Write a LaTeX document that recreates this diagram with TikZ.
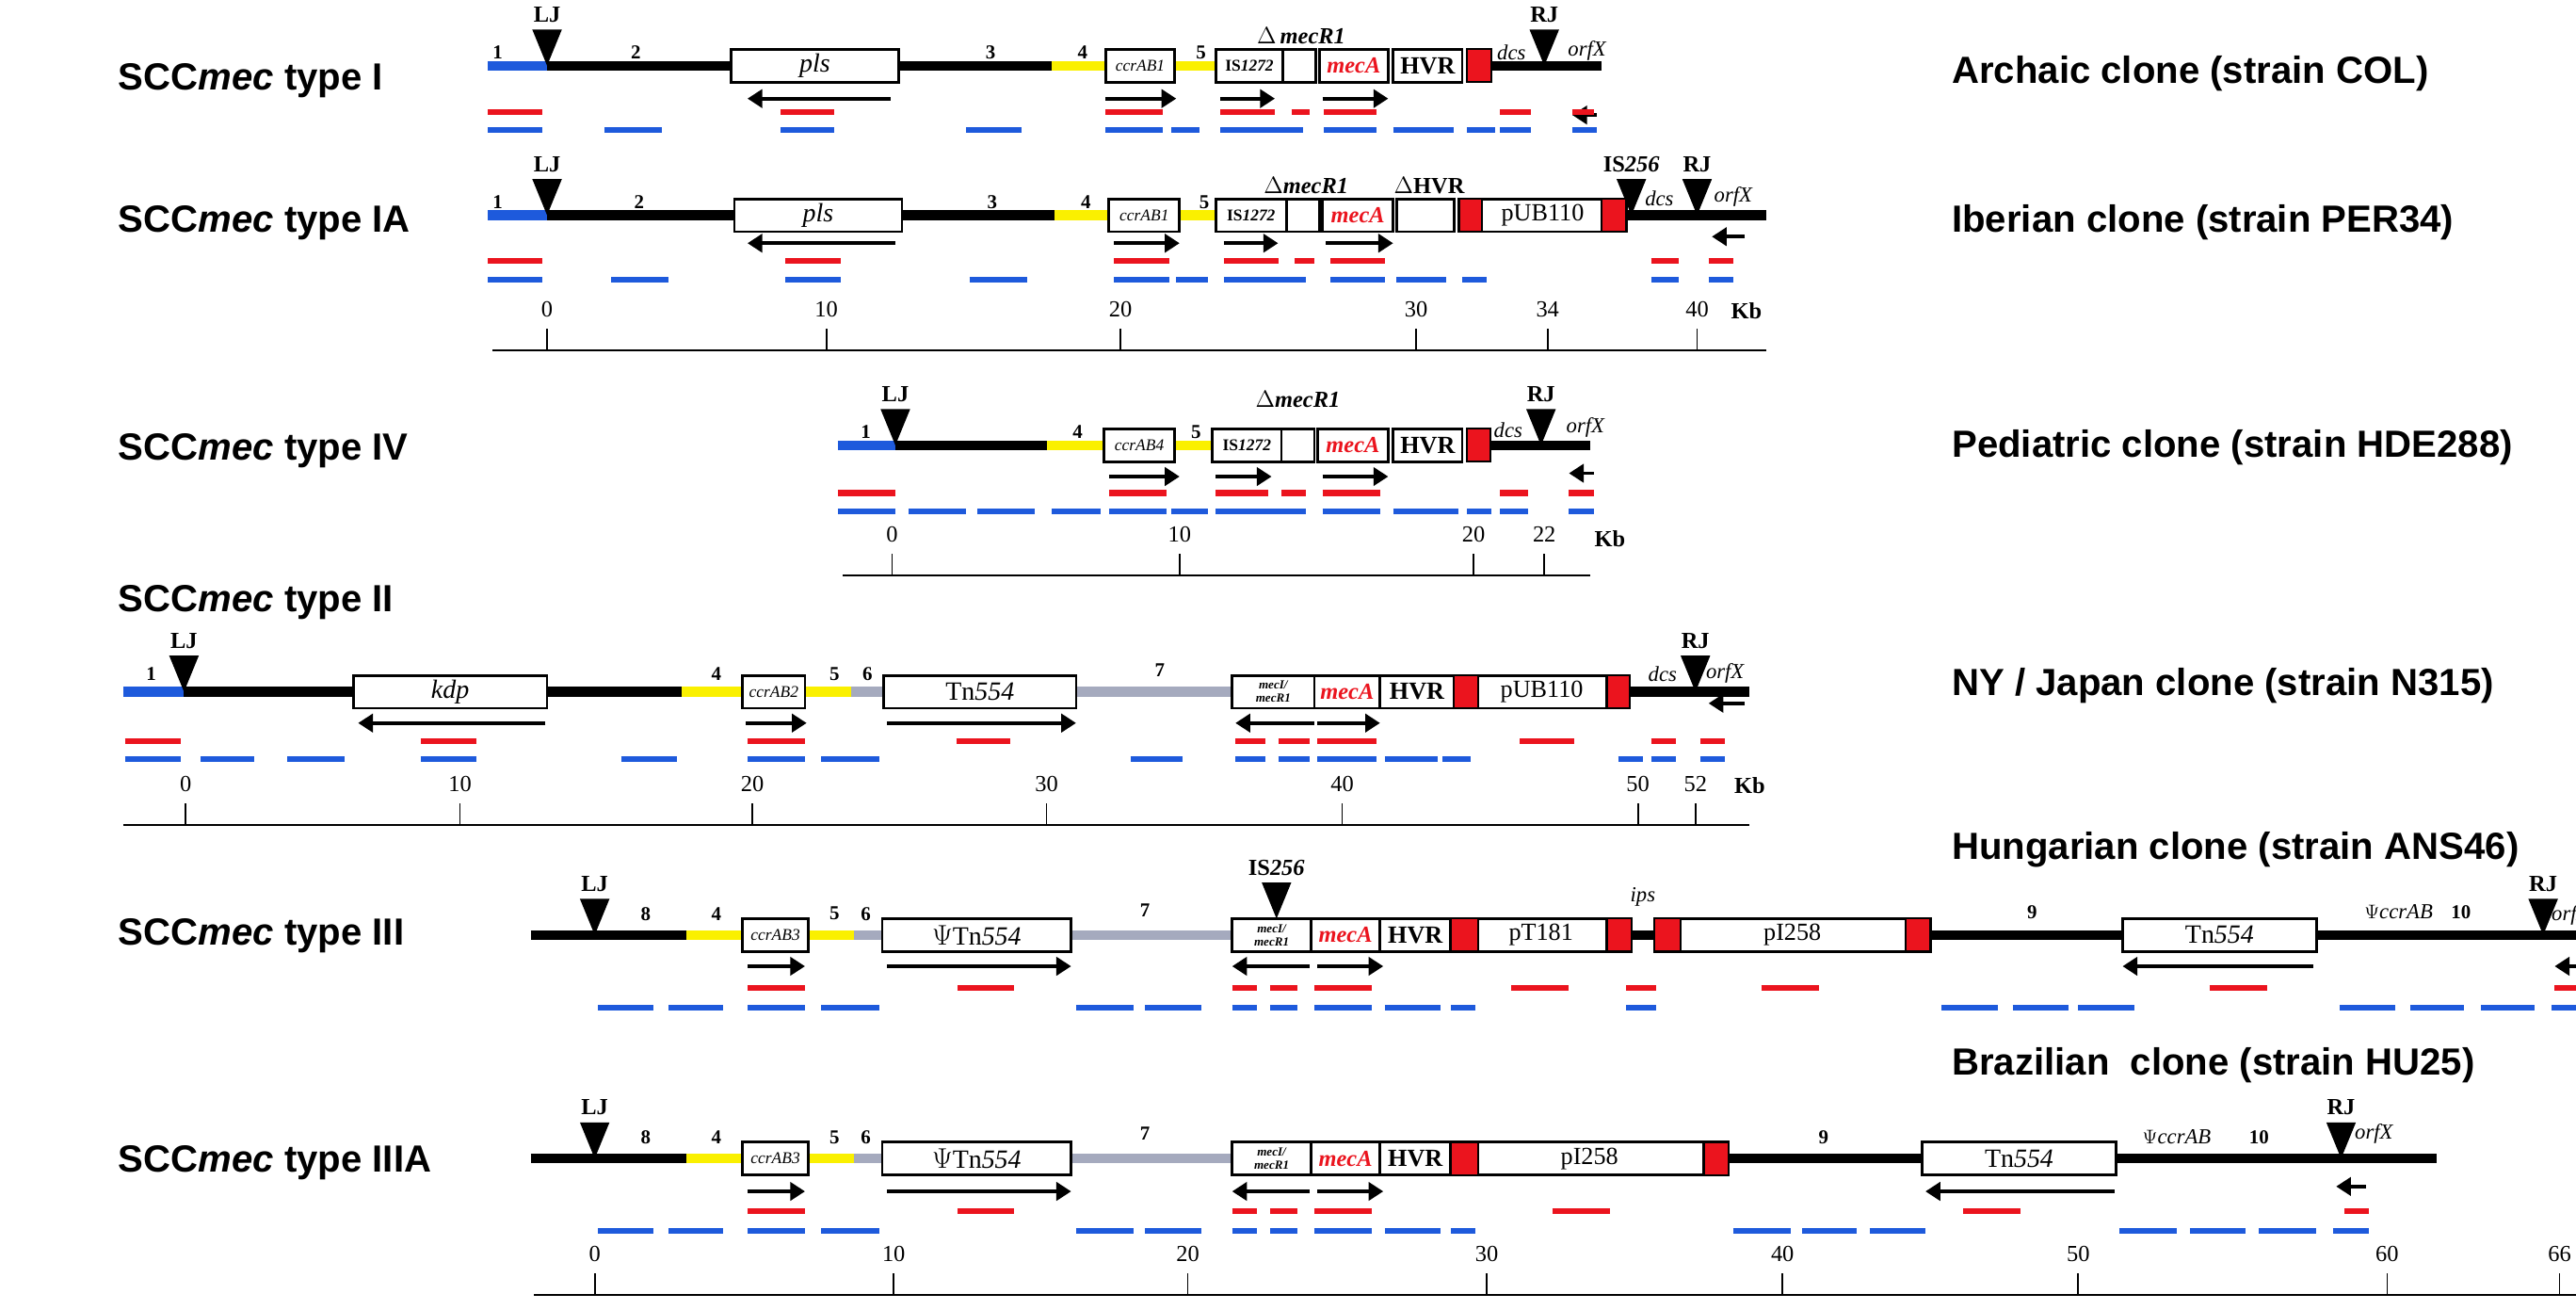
\documentclass[tikz,border=0pt]{standalone}
\usepackage{fontspec}
\setmainfont{Liberation Serif}
\newfontfamily\ttlfont{Liberation Sans}
\usetikzlibrary{arrows.meta}
\definecolor{mblue}{RGB}{30,90,220}
\definecolor{mred}{RGB}{235,20,30}
\definecolor{myel}{RGB}{250,240,0}
\definecolor{mgray}{RGB}{165,170,190}
\tikzset{
 seg/.style={line width=6pt},
 gbox/.style={draw=black,line width=1.6pt,fill=white},
 rbox/.style={draw=black,line width=1.2pt,fill=mred},
 gtxt/.style={font=\bfseries\fontsize{15}{15}\selectfont,inner sep=0pt},
 num/.style={font=\bfseries\fontsize{12}{12}\selectfont,inner sep=0pt},
 jl/.style={font=\bfseries\fontsize{14}{14}\selectfont,inner sep=0pt},
 it/.style={font=\mdseries\itshape\fontsize{13}{13}\selectfont,inner sep=0pt},
 ttl/.style={font=\ttlfont\bfseries\fontsize{23}{23}\selectfont,inner sep=0pt,anchor=base west},
 garrow/.style={line width=2.2pt,-{Triangle[length=9pt,width=11pt]}},
 bar/.style={line width=3.5pt},
 tick/.style={line width=1pt},
 tri/.pic={\fill (-9,-22)--(9,-22)--(0,0)--cycle; \node[jl] at (0,-31) {#1};},
}
\newcommand\Seg[4]{\draw[seg,#4] (#1,#3)--(#2,#3);}
\newcommand\GB[5]{\draw[gbox] (#2,#4-10) rectangle (#3,#4+10); \node[gtxt] (#1) at ({(#2+#3)/2},#4) {#5};}
\newcommand\RB[3]{\draw[rbox] (#1,#3-10) rectangle (#2,#3+10);}
\newcommand\Tri[3]{\pic at (#1,#2) {tri={#3}};}
\newcommand\Ar[3]{\draw[garrow] (#1,#3)--(#2,#3);}
\newcommand\Bars[3]{\foreach \a/\b in {#3} \draw[bar,#2] (\a,#1)--(\b,#1);}
\newcommand\Scl[4]{\draw[line width=1.3pt] (#2,#1)--(#3,#1);
 \foreach \v/\p in {#4} {\draw[tick] (\p,#1)--(\p,#1-13); \node[inner sep=0pt,font=\fontsize{14}{14}\selectfont] at (\p,#1-25) {\v};}}
\newcommand\mecR{\fontsize{7.5}{7.5}\selectfont\itshape\shortstack{mecI/\\mecR1}}
\newcommand\ccr[1]{\mdseries\itshape\fontsize{10}{10}\selectfont #1}
\newcommand\mA{\color{mred}\itshape\fontsize{14}{14}\selectfont mecA}
\begin{document}
\begin{tikzpicture}[x=1pt,y=-1pt]
\useasboundingbox (0,0) rectangle (1568,797);
\fill[white] (0,0) rectangle (1568,797);
\clip (0,0) rectangle (1568,797);
% ---------- titles
\node[ttl] at (72,55) {SCC\textit{mec} type I};
\node[ttl] at (72,141) {SCC\textit{mec} type IA};
\node[ttl] at (72,280) {SCC\textit{mec} type IV};
\node[ttl] at (72,372) {SCC\textit{mec} type II};
\node[ttl] at (72,575) {SCC\textit{mec} type III};
\node[ttl] at (72,713) {SCC\textit{mec} type IIIA};
\node[ttl] at (1188,51) {Archaic clone (strain COL)};
\node[ttl] at (1188,141) {Iberian clone (strain PER34)};
\node[ttl] at (1188,278) {Pediatric clone (strain HDE288)};
\node[ttl] at (1188,423) {NY / Japan clone (strain N315)};
\node[ttl] at (1188,523) {Hungarian clone (strain ANS46)};
\node[ttl] at (1188,654) {Brazilian\ \ clone (strain HU25)};
% ---------- type I
\Seg{297}{333}{40}{mblue}\Seg{333}{640}{40}{black}\Seg{640}{740}{40}{myel}\Seg{900}{975}{40}{black}
\GB{pI}{445}{547}{40}{\mdseries\itshape\fontsize{16}{16}\selectfont pls}
\GB{cI}{673}{715}{40}{\ccr{ccrAB1}}
\GB{isI}{740}{781}{40}{\fontsize{10}{10}\selectfont IS\textit{1272}}
\GB{eI}{781}{801}{40}{}
\GB{mI}{803}{845}{40}{\mA}
\GB{hI}{848}{890}{40}{HVR}
\RB{893}{908}{40}
\Tri{333}{40}{LJ}
\Tri{940}{40}{RJ}
\node[num] at (303,32) {1};\node[num] at (387,32) {2};\node[num] at (603,32) {3};\node[num] at (659,32) {4};\node[num] at (731,32) {5};
\node[jl] at (792,22) {$\Delta$\,\textit{mecR1}};
\node[it] at (920,32) {dcs};
\node[it] at (966,31) {orfX};
\Ar{542}{455}{60}\Ar{673}{716}{60}\Ar{743}{776}{60}\Ar{805}{845}{60}\Ar{972}{957}{70}
\Bars{68}{mred}{297/330,475/508,673/708,743/776,786/797,806/838,913/932,957/970}
\Bars{79}{mblue}{297/330,368/403,475/508,588/622,673/708,713/730,743/793,806/838,848/885,893/910,913/932,957/972}
% ---------- type IA
\Seg{297}{333}{131}{mblue}\Seg{333}{642}{131}{black}\Seg{642}{740}{131}{myel}\Seg{985}{1075}{131}{black}
\GB{pIA}{447}{549}{131}{\mdseries\itshape\fontsize{16}{16}\selectfont pls}
\GB{cIA}{675}{718}{131}{\ccr{ccrAB1}}
\GB{isIA}{740}{783}{131}{\fontsize{10}{10}\selectfont IS\textit{1272}}
\GB{eIA}{783}{803}{131}{}
\GB{mIA}{805}{848}{131}{\mA}
\GB{hIA}{850}{885}{131}{}
\GB{uIA}{888}{990}{131}{\mdseries pUB110}
\RB{888}{902}{131}\RB{975}{990}{131}
\Tri{333}{131}{LJ}
\Tri{993}{131}{IS\textit{256}}
\Tri{1033}{131}{RJ}
\node[num] at (303,123) {1};\node[num] at (389,123) {2};\node[num] at (604,123) {3};\node[num] at (661,123) {4};\node[num] at (733,123) {5};
\node[jl] at (795,113) {$\Delta$\textit{mecR1}};\node[jl] at (870,113) {$\Delta$HVR};
\node[it] at (1010,121) {dcs};
\node[it] at (1055,120) {orfX};
\Ar{545}{455}{148}\Ar{678}{718}{148}\Ar{745}{778}{148}\Ar{807}{848}{148}\Ar{1062}{1042}{144}
\Bars{159}{mred}{297/330,478/512,678/712,745/778,788/800,810/843,1005/1022,1040/1055}
\Bars{170}{mblue}{297/330,372/407,478/512,590/625,678/712,716/735,745/795,810/843,850/880,890/905,1005/1022,1040/1055}
\Scl{213}{300}{1075}{0/333,10/503,20/682,30/862,34/942,40/1033}
\node[jl] at (1063,189) {Kb};
% ---------- type IV
\Seg{510}{545}{271}{mblue}\Seg{545}{637}{271}{black}\Seg{637}{738}{271}{myel}\Seg{900}{968}{271}{black}
\GB{cIV}{672}{715}{271}{\ccr{ccrAB4}}
\GB{isIV}{738}{780}{271}{\fontsize{10}{10}\selectfont IS\textit{1272}}
\GB{eIV}{780}{800}{271}{}
\GB{mIV}{802}{845}{271}{\mA}
\GB{hIV}{848}{890}{271}{HVR}
\RB{893}{907}{271}
\Tri{545}{271}{LJ}
\Tri{938}{271}{RJ}
\node[num] at (527,263) {1};\node[num] at (656,263) {4};\node[num] at (728,263) {5};
\node[jl] at (790,243) {$\Delta$\textit{mecR1}};
\node[it] at (918,262) {dcs};
\node[it] at (965,260) {orfX};
\Ar{675}{718}{290}\Ar{740}{774}{290}\Ar{805}{845}{290}\Ar{970}{955}{288}
\Bars{300}{mred}{510/545,675/710,740/772,780/795,805/840,913/930,955/970}
\Bars{311}{mblue}{510/545,553/588,595/630,640/670,675/710,713/735,740/795,805/840,848/888,893/908,913/930,955/970}
\Scl{350}{513}{968}{0/543,10/718,20/897,22/940}
\node[jl] at (980,328) {Kb};
% ---------- type II
\Seg{75}{112}{421}{mblue}\Seg{112}{415}{421}{black}\Seg{415}{518}{421}{myel}\Seg{518}{750}{421}{mgray}\Seg{985}{1065}{421}{black}
\GB{kII}{215}{333}{421}{\mdseries\itshape\fontsize{16}{16}\selectfont kdp}
\GB{cII}{452}{490}{421}{\ccr{ccrAB2}}
\GB{tII}{538}{655}{421}{\mdseries\fontsize{16}{16}\selectfont Tn\textit{554}}
\GB{iII}{750}{800}{421}{\mecR}
\GB{mII}{800}{840}{421}{\mA}
\GB{hII}{840}{885}{421}{HVR}
\GB{uII}{885}{992}{421}{\mdseries pUB110}
\RB{885}{900}{421}\RB{978}{992}{421}
\Tri{112}{421}{LJ}
\Tri{1032}{421}{RJ}
\node[num] at (92,410) {1};\node[num] at (436,410) {4};\node[num] at (508,410) {5};\node[num] at (528,410) {6};\node[num] at (706,408) {7};
\node[it] at (1012,410) {dcs};
\node[it] at (1050,410) {orfX};
\Ar{332}{218}{440}\Ar{454}{491}{440}\Ar{540}{655}{440}\Ar{800}{752}{440}\Ar{802}{840}{440}\Ar{1062}{1040}{428}
\Bars{451}{mred}{76/110,256/290,455/490,582/615,752/770,778/797,802/838,925/958,1005/1020,1035/1050}
\Bars{462}{mblue}{76/110,122/155,175/210,256/290,378/412,455/490,500/535,688/720,752/770,778/797,802/838,843/875,878/895,985/1000,1005/1020,1035/1050}
\Scl{502}{75}{1065}{0/113,10/280,20/458,30/637,40/817,50/997,52/1032}
\node[jl] at (1065,478) {Kb};
% ---------- type III
\Seg{323}{418}{569}{black}\Seg{418}{520}{569}{myel}\Seg{520}{750}{569}{mgray}\Seg{975}{1580}{569}{black}
\GB{cIII}{452}{492}{569}{\ccr{ccrAB3}}
\GB{tIII}{537}{652}{569}{\mdseries\fontsize{16}{16}\selectfont $\Psi$Tn\textit{554}}
\GB{iIII}{750}{798}{569}{\mecR}
\GB{mIII}{798}{840}{569}{\mA}
\GB{hIII}{840}{883}{569}{HVR}
\GB{pIII}{883}{993}{569}{\mdseries pT181}
\RB{883}{900}{569}\RB{978}{993}{569}
\GB{qIII}{1007}{1175}{569}{\mdseries pI258}
\RB{1007}{1023}{569}\RB{1160}{1175}{569}
\GB{nIII}{1292}{1410}{569}{\mdseries\fontsize{16}{16}\selectfont Tn\textit{554}}
\Tri{362}{569}{LJ}
\Tri{777}{559}{IS\textit{256}}
\Tri{1548}{569}{RJ}
\node[num] at (393,556) {8};\node[num] at (436,556) {4};\node[num] at (508,556) {5};\node[num] at (527,556) {6};\node[num] at (697,554) {7};\node[num] at (1237,555) {9};
\node[it] at (1000,546) {ips};
\node[it] at (1460,555) {$\Psi$ccrAB};
\node[num] at (1498,555) {10};
\node[it,anchor=west] at (1553,557) {orfX};
\Ar{455}{490}{588}\Ar{540}{652}{588}\Ar{797}{750}{588}\Ar{802}{842}{588}\Ar{1408}{1292}{588}\Ar{1575}{1555}{588}
\Bars{601}{mred}{455/490,583/617,750/765,773/790,800/835,920/955,990/1008,1072/1107,1345/1380,1555/1568}
\Bars{613}{mblue}{364/398,407/440,455/490,500/535,655/690,697/731,750/765,773/790,800/835,843/877,883/898,990/1008,1182/1216,1225/1259,1265/1299,1424/1458,1467/1500,1510/1543,1553/1568}
% ---------- type IIIA
\Seg{323}{418}{705}{black}\Seg{418}{520}{705}{myel}\Seg{520}{750}{705}{mgray}\Seg{1045}{1483}{705}{black}
\GB{cIIIA}{452}{492}{705}{\ccr{ccrAB3}}
\GB{tIIIA}{537}{652}{705}{\mdseries\fontsize{16}{16}\selectfont $\Psi$Tn\textit{554}}
\GB{iIIIA}{750}{798}{705}{\mecR}
\GB{mIIIA}{798}{840}{705}{\mA}
\GB{hIIIA}{840}{883}{705}{HVR}
\GB{qIIIA}{883}{1052}{705}{\mdseries pI258}
\RB{883}{900}{705}\RB{1037}{1052}{705}
\GB{nIIIA}{1170}{1288}{705}{\mdseries\fontsize{16}{16}\selectfont Tn\textit{554}}
\Tri{362}{705}{LJ}
\Tri{1425}{705}{RJ}
\node[num] at (393,692) {8};\node[num] at (436,692) {4};\node[num] at (508,692) {5};\node[num] at (527,692) {6};\node[num] at (697,690) {7};\node[num] at (1110,692) {9};
\node[it] at (1325,692) {$\Psi$ccrAB};
\node[num] at (1375,692) {10};
\node[it] at (1445,690) {orfX};
\Ar{455}{490}{725}\Ar{540}{652}{725}\Ar{797}{750}{725}\Ar{802}{842}{725}\Ar{1287}{1172}{725}\Ar{1440}{1422}{722}
\Bars{737}{mred}{455/490,583/617,750/765,773/790,800/835,945/980,1195/1230,1427/1442}
\Bars{749}{mblue}{364/398,407/440,455/490,500/535,655/690,697/731,750/765,773/790,800/835,843/877,883/898,1055/1090,1097/1130,1138/1172,1290/1325,1333/1367,1375/1410,1420/1442}
\Scl{788}{325}{1580}{0/362,10/544,20/723,30/905,40/1085,50/1265,60/1453,66/1558}
\end{tikzpicture}
\end{document}
